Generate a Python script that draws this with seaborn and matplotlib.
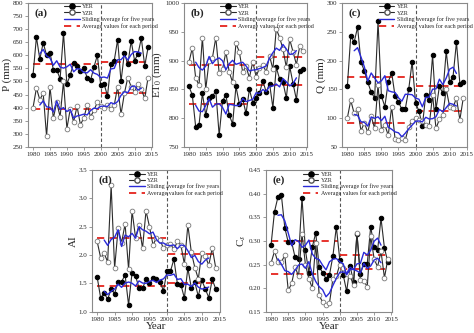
import numpy as np
import pandas as pd
import matplotlib
matplotlib.use("Agg")
import matplotlib.pyplot as plt
import seaborn as sns
from matplotlib.lines import Line2D

sns.set_style("ticks")
plt.rcParams["font.family"] = ["Liberation Serif", "DejaVu Serif"]
plt.rcParams["mathtext.fontset"] = "stix"

years = list(range(1980, 2015))

# Annual precipitation P (mm)
p_yer = [525, 670, 585, 648, 600, 610, 545, 545, 510, 685, 490, 525, 570, 560, 540,
         550, 515, 505, 555, 600, 485, 490, 445, 565, 580, 660, 500, 610, 565, 655,
         580, 605, 665, 560, 630]
p_yzr = [400, 475, 430, 455, 290, 480, 360, 420, 365, 500, 320, 395, 345, 405, 335,
         360, 410, 365, 390, 420, 405, 400, 410, 395, 410, 480, 375, 455, 515, 480,
         460, 490, 470, 435, 515]
p_period_yer = [567, 573]
p_period_yzr = [395, 455]

# Reference evapotranspiration ET0 (mm)
et_yer = [855, 840, 785, 788, 843, 805, 835, 838, 847, 770, 830, 840, 805, 790, 855,
          825, 833, 808, 850, 827, 835, 843, 865, 845, 860, 818, 888, 868, 862, 835,
          890, 860, 832, 882, 886]
et_yzr = [897, 922, 870, 857, 940, 850, 900, 905, 940, 878, 885, 915, 880, 862, 930,
          915, 880, 890, 870, 898, 872, 887, 893, 880, 908, 885, 955, 940, 920, 888,
          937, 915, 893, 925, 916]
et_period_yer = [824, 857]
et_period_yzr = [893, 907]

# Runoff Q (mm)
q_yer = [155, 243, 232, 258, 197, 182, 162, 145, 135, 268, 138, 120, 163, 179, 138,
         128, 115, 116, 150, 198, 127, 112, 87, 140, 132, 209, 115, 155, 143, 216,
         162, 172, 232, 160, 162]
q_yzr = [100, 131, 108, 115, 78, 92, 75, 103, 82, 158, 80, 88, 70, 120, 63,
         62, 65, 62, 85, 95, 100, 97, 95, 88, 87, 140, 82, 98, 105, 150,
         120, 118, 135, 97, 135]
q_period_yer = [171, 155]
q_period_yzr = [92, 113]

# Aridity index AI
ai_yer = [1.61, 1.24, 1.33, 1.22, 1.40, 1.32, 1.53, 1.53, 1.65, 1.12, 1.69, 1.63,
          1.42, 1.41, 1.57, 1.50, 1.60, 1.58, 1.53, 1.37, 1.71, 1.71, 1.93, 1.49,
          1.48, 1.24, 1.77, 1.42, 1.52, 1.27, 1.56, 1.40, 1.25, 1.57, 1.40]
ai_yzr = [2.24, 1.95, 2.03, 1.88, 3.23, 1.77, 2.47, 2.22, 2.55, 1.75, 2.78, 2.31,
          2.53, 2.12, 2.78, 2.50, 2.18, 2.30, 2.27, 2.12, 2.18, 2.20, 2.10, 2.24,
          2.18, 1.84, 2.53, 2.05, 1.78, 1.58, 2.04, 1.98, 1.82, 2.13, 1.77]
ai_period_yer = [1.46, 1.51]
ai_period_yzr = [2.30, 2.02]

# Runoff coefficient Cs
cs_yer = [0.292, 0.362, 0.393, 0.397, 0.328, 0.297, 0.297, 0.265, 0.262, 0.392,
          0.280, 0.233, 0.287, 0.317, 0.245, 0.233, 0.220, 0.228, 0.268, 0.330,
          0.260, 0.228, 0.193, 0.247, 0.213, 0.315, 0.230, 0.252, 0.252, 0.330,
          0.287, 0.280, 0.348, 0.285, 0.255]
cs_yzr = [0.253, 0.278, 0.255, 0.255, 0.270, 0.195, 0.210, 0.245, 0.225, 0.315,
          0.250, 0.220, 0.200, 0.295, 0.185, 0.170, 0.165, 0.168, 0.220, 0.225,
          0.250, 0.242, 0.230, 0.225, 0.207, 0.317, 0.218, 0.215, 0.203, 0.310,
          0.262, 0.245, 0.278, 0.222, 0.262]
cs_period_yer = [0.300, 0.270]
cs_period_yzr = [0.230, 0.240]

panels = [
    dict(tag="(a)", ylabel="P (mm)", yer=p_yer, yzr=p_yzr, pyer=p_period_yer,
         pyzr=p_period_yzr, ylim=(250, 800), step=50, fmt="{:.0f}",
         rect=[0.059, 0.559, 0.262, 0.432], xlabel=False),
    dict(tag="(b)", ylabel="ET$_0$ (mm)", yer=et_yer, yzr=et_yzr, pyer=et_period_yer,
         pyzr=et_period_yzr, ylim=(750, 1000), step=50, fmt="{:.0f}",
         rect=[0.388, 0.559, 0.260, 0.432], xlabel=False),
    dict(tag="(c)", ylabel="Q (mm)", yer=q_yer, yzr=q_yzr, pyer=q_period_yer,
         pyzr=q_period_yzr, ylim=(50, 300), step=50, fmt="{:.0f}",
         rect=[0.722, 0.559, 0.264, 0.432], xlabel=False),
    dict(tag="(d)", ylabel="AI", yer=ai_yer, yzr=ai_yzr, pyer=ai_period_yer,
         pyzr=ai_period_yzr, ylim=(1.0, 3.5), step=0.5, fmt="{:.1f}",
         rect=[0.194, 0.064, 0.270, 0.425], xlabel=True),
    dict(tag="(e)", ylabel="C$_s$", yer=cs_yer, yzr=cs_yzr, pyer=cs_period_yer,
         pyzr=cs_period_yzr, ylim=(0.15, 0.45), step=0.05, fmt="{:.2f}",
         rect=[0.561, 0.064, 0.266, 0.425], xlabel=True),
]

line_col = "#2b2b2b"
blue = "#2a2ad8"
red = "#e5231c"
frame = "#8a8a8a"

fig = plt.figure(figsize=(4.74, 3.33), dpi=100)

for p in panels:
    ax = fig.add_axes(p["rect"])
    df = pd.DataFrame({"Year": years, "YER": p["yer"], "YZR": p["yzr"]})

    sns.lineplot(data=df, x="Year", y="YER", ax=ax, color=line_col, lw=0.8,
                 marker="o", markersize=3.2, markerfacecolor="black",
                 markeredgecolor="black", zorder=3)
    sns.lineplot(data=df, x="Year", y="YZR", ax=ax, color=line_col, lw=0.8,
                 marker="o", markersize=3.4, markerfacecolor="white",
                 markeredgecolor="#777777", markeredgewidth=0.6, zorder=3)

    # five-year centred sliding averages
    for col in ["YER", "YZR"]:
        roll = df[col].rolling(5, center=True).mean()
        sns.lineplot(x=df["Year"][roll.notna()], y=roll.dropna(), ax=ax,
                     color=blue, lw=1.0, zorder=4)

    # period means before and after 2000
    for vals in (p["pyer"], p["pyzr"]):
        ax.plot([1980, 1999.6], [vals[0]] * 2, color=red, lw=1.3,
                ls=(0, (4, 3)), zorder=2)
        ax.plot([2000.2, 2014.2], [vals[1]] * 2, color=red, lw=1.3,
                ls=(0, (4, 3)), zorder=2)

    ax.axvline(2000, color="#555555", lw=0.8, ls=(0, (3, 2)), zorder=1)

    ax.set_xlim(1978.5, 2015.2)
    ax.set_ylim(*p["ylim"])
    ax.set_xticks(range(1980, 2016, 5))
    yt = np.arange(p["ylim"][0], p["ylim"][1] + p["step"] / 2, p["step"])
    ax.set_yticks(yt)
    ax.set_yticklabels([p["fmt"].format(v) for v in yt])
    ax.tick_params(labelsize=5, length=2, width=0.6, color=frame, pad=1.5)
    for s in ax.spines.values():
        s.set_color(frame)
        s.set_linewidth(0.8)
    ax.set_ylabel(p["ylabel"], fontsize=8, labelpad=0.5)
    ax.set_xlabel("Year" if p["xlabel"] else "", fontsize=8, labelpad=0)
    ax.text(0.05, 0.96, p["tag"], transform=ax.transAxes, fontsize=8,
            fontweight="bold", va="top", ha="left")

    handles = [
        Line2D([], [], color=line_col, lw=0.8, marker="o", markersize=3.8,
               markerfacecolor="black", markeredgecolor="black"),
        Line2D([], [], color=line_col, lw=0.8, marker="o", markersize=3.8,
               markerfacecolor="white", markeredgecolor="#555555"),
        Line2D([], [], color=blue, lw=1.0),
        Line2D([], [], color=red, lw=1.3, ls=(0, (4, 3))),
    ]
    labels = ["YER", "YZR", "Sliding average for five years",
              "Average values for each period"]
    ax.legend(handles, labels, loc="upper left", bbox_to_anchor=(0.26, 1.02),
              frameon=False, fontsize=4.3, handlelength=2.6, handletextpad=0.4,
              labelspacing=0.15, borderpad=0.2)

fig.savefig("out.png", dpi=100)
